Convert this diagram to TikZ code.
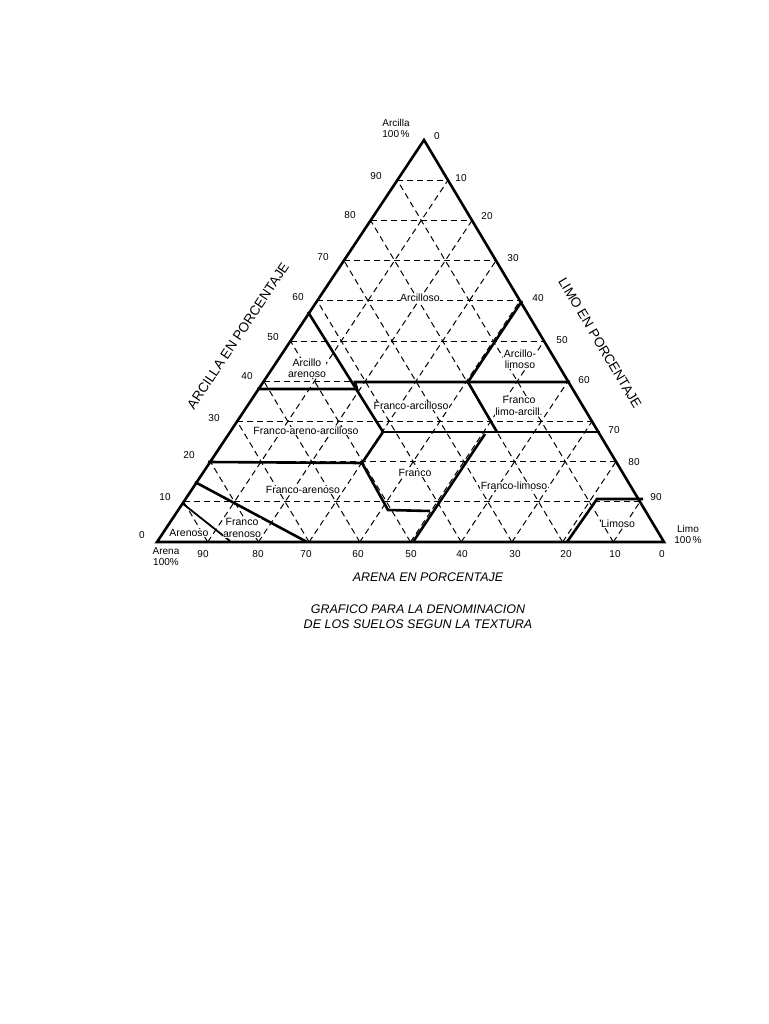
\documentclass[tikz,border=0pt]{standalone}
\usepackage{fontspec}
\setmainfont{Liberation Sans}
\begin{document}
\begin{tikzpicture}[x=1pt,y=-1pt,
  grid/.style={line width=1pt,dash pattern=on 6pt off 4pt},
  bnd/.style={line width=2.6pt,line join=miter},
  thinb/.style={line width=1.8pt},
  lab/.style={font=\fontsize{10.5}{11.5}\selectfont,inner sep=0.5pt,fill=white,align=center},
  num/.style={font=\fontsize{10}{11}\selectfont,inner sep=0pt,align=center},
  ttl/.style={font=\fontsize{12.5}{15}\selectfont\itshape,inner sep=0pt},
  ttlr/.style={font=\fontsize{13.5}{15}\selectfont,inner sep=0pt}]
\useasboundingbox (0,0) rectangle (768,1024);
\coordinate (A) at (424,140);
\coordinate (B) at (157,542);
\coordinate (L) at (664,542);
% grid
\foreach \k in {1,...,9}{
  \draw[grid] ({157+26.7*\k},{542-40.2*\k}) -- ({664-24*\k},{542-40.2*\k});
  \draw[grid] ({157+50.7*\k},542) -- ({424+24*\k},{140+40.2*\k});
  \draw[grid] ({664-50.7*\k},542) -- ({424-26.7*\k},{140+40.2*\k});
}
% boundaries
\draw[bnd] (308,312) -- (383,432) -- (362,463) -- (388,510) -- (430,511);
\draw[bnd] (413,542) -- (485,434);
\draw[bnd] (257,389) -- (357,389) -- (355,382) -- (570,382);
\draw[bnd] (383,432) -- (600,432);
\draw[bnd] (208,462) -- (362,463);
\draw[bnd] (522,301) -- (468,382) -- (497,432);
\draw[bnd] (567,542) -- (597,499) -- (643,499);
\draw[bnd] (195,482) -- (307,542);
\draw[thinb] (182,503) -- (230,541);
% outline
\draw[bnd] (A) -- (B) -- (L) -- cycle;
% region labels
\node[lab] (r1) at (420,298) {Arcilloso};
\node[lab] (r2) at (307,368) {Arcillo\\arenoso};
\node[lab] (r3) at (520,359) {Arcillo-\\limoso};
\node[lab] (r4) at (411,406) {Franco-arcilloso};
\node[lab] (r5) at (519,406) {Franco\\limo-arcill.};
\node[lab] (r6) at (306,431) {Franco-areno-arcilloso};
\node[lab] (r7) at (415,473) {Franco};
\node[lab] (r8) at (514,486) {Franco-limoso};
\node[lab] (r9) at (303,490) {Franco-arenoso};
\node[lab] (r10) at (189,533) {Arenoso};
\node[lab] (r11) at (242,528) {Franco\\arenoso};
\node[lab] (r12) at (618,524) {Limoso};
% left numbers
\node[num] (l0) at (142,535) {0};
\foreach \v/\x/\y in {10/165/497,20/189/455,30/214/418,40/247/376,50/273/337,60/298/297,70/323/257,80/350/215,90/376/176}
  \node[num] (lc\v) at (\x,\y) {\v};
\node[num] (ac) at (396,128) {Arcilla\\100\,\%};
\node[num] (t0) at (437,136) {0};
\foreach \v/\x/\y in {10/461/178,20/487/216,30/513/258,40/538/298,50/562/340,60/584/380,70/614/430,80/634/462,90/656/497}
  \node[num] (rt\v) at (\x,\y) {\v};
\node[num] (lm) at (688,534) {Limo\\100\,\%};
\node[num] (ar) at (166,557) {Arena\\100\%};
\foreach \v/\x in {90/203,80/258,70/306,60/358,50/411,40/462,30/515,20/566,10/615,0/662}
  \node[num] (b\v) at (\x,554) {\v};
% titles
\node[ttlr,rotate=56.4] (tl) at (238,336) {ARCILLA EN PORCENTAJE};
\node[ttlr,rotate=-59.2] (tr) at (600,343) {LIMO EN PORCENTAJE};
\node[ttl] (tb) at (428,577) {ARENA EN PORCENTAJE};
\node[ttl,align=center] (tt) at (418,617) {GRAFICO PARA LA DENOMINACION\\DE LOS SUELOS SEGUN LA TEXTURA};
\end{tikzpicture}
\end{document}
